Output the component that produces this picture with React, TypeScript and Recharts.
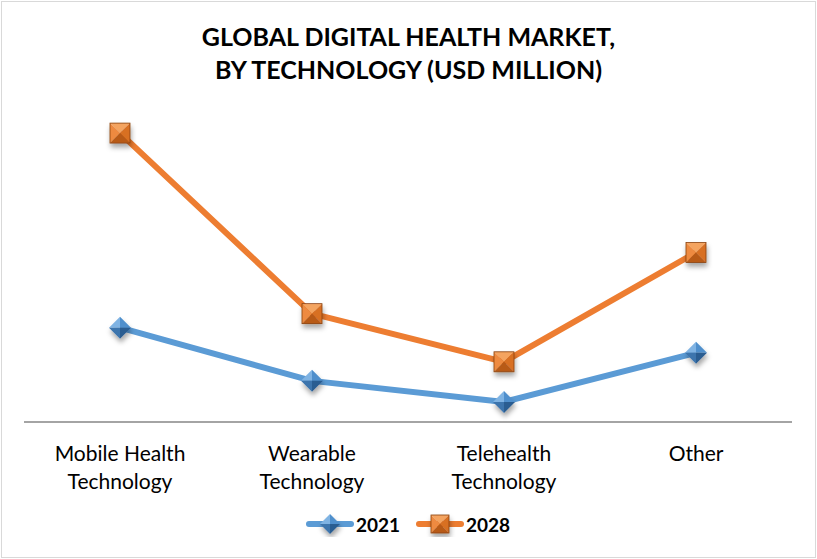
import React from "react";
import { LineChart, Line, XAxis, YAxis, Legend } from "recharts";

const categories = ["Mobile Health|Technology", "Wearable|Technology", "Telehealth|Technology", "Other"];
const values2021 = [94, 41, 20, 69];
const values2028 = [288, 108, 60, 169];
const seriesNames = ["2021", "2028"];

const data = categories.map((c, i) => ({ name: c, s2021: values2021[i], s2028: values2028[i] }));

const FONT = "Lato, 'Open Sans', sans-serif";
const BLUE = "#5B9BD5";
const ORANGE = "#ED7D31";

const Diamond = ({ cx, cy, size = 11 }: any) => {
  if (cx == null || cy == null) return null;
  const r = size;
  return (
    <g filter="url(#shadow)">
      <polygon points={`${cx},${cy - r} ${cx},${cy} ${cx - r},${cy}`} fill="#7fb3e3" />
      <polygon points={`${cx},${cy - r} ${cx + r},${cy} ${cx},${cy}`} fill="#4f8fcc" />
      <polygon points={`${cx - r},${cy} ${cx},${cy} ${cx},${cy + r}`} fill="#3d74ad" />
      <polygon points={`${cx},${cy} ${cx + r},${cy} ${cx},${cy + r}`} fill="#2c5d91" />
    </g>
  );
};

const Square = ({ cx, cy, size = 10 }: any) => {
  if (cx == null || cy == null) return null;
  const r = size;
  const l = cx - r, t = cy - r, rr = cx + r, b = cy + r;
  return (
    <g filter="url(#shadow)">
      <polygon points={`${l},${t} ${rr},${t} ${cx},${cy}`} fill="#f4a460" />
      <polygon points={`${l},${t} ${cx},${cy} ${l},${b}`} fill="#ee8a3f" />
      <polygon points={`${rr},${t} ${rr},${b} ${cx},${cy}`} fill="#d86f24" />
      <polygon points={`${l},${b} ${cx},${cy} ${rr},${b}`} fill="#b85a17" />
      <rect x={l} y={t} width={2 * r} height={2 * r} fill="none" stroke="#8a4210" strokeWidth={0.8} />
    </g>
  );
};

const Tick = ({ x, y, payload }: any) => {
  const lines = String(payload.value).split("|");
  return (
    <g>
      {lines.map((ln, i) => (
        <text key={i} x={x} y={y + 31 + i * 28} textAnchor="middle" fontFamily={FONT} fontSize={21} fill="#000">
          {ln}
        </text>
      ))}
    </g>
  );
};

const LegendContent = () => (
  <div style={{ display: "flex", justifyContent: "center", alignItems: "center", gap: 16, fontFamily: FONT, fontWeight: 700, fontSize: 19, height: 28 }}>
    {[0, 1].map((i) => (
      <div key={i} style={{ display: "flex", alignItems: "center" }}>
        <svg width={48} height={26}>
          <line x1={3} y1={13} x2={45} y2={13} stroke={i === 0 ? BLUE : ORANGE} strokeWidth={6} strokeLinecap="round" />
          {i === 0 ? <Diamond cx={24} cy={13} size={10} /> : <Square cx={24} cy={13} size={9} />}
        </svg>
        <span style={{ marginLeft: 2 }}>{seriesNames[i]}</span>
      </div>
    ))}
  </div>
);

export default function App() {
  return (
    <div style={{ position: "absolute", left: 0, top: 0, width: 817, height: 559, background: "#fff" }}>
      <div style={{ position: "absolute", left: 1, top: 1, width: 813, height: 555, border: "1px solid #d9d9d9" }} />
      <div style={{ position: "absolute", left: 0, top: 20, width: 817, textAlign: "center", fontFamily: FONT, fontWeight: 700, fontSize: 25, lineHeight: "33px", color: "#000" }}>
        GLOBAL DIGITAL HEALTH MARKET,
        <br />
        BY TECHNOLOGY (USD MILLION)
      </div>
      <LineChart width={817} height={559} data={data} margin={{ top: 101, right: 25, left: 24, bottom: 21 }} style={{ position: "absolute", left: 0, top: 0 }}>
        <defs>
          <filter id="shadow" x="-50%" y="-50%" width="200%" height="200%">
            <feDropShadow dx={1} dy={4} stdDeviation={2.5} floodColor="#000" floodOpacity={0.35} />
          </filter>
        </defs>
        <XAxis dataKey="name" height={88} tick={<Tick />} tickLine={false} axisLine={{ stroke: "#868686", strokeWidth: 1.5 }} interval={0} padding={{ left: 96, right: 96 }} />
        <YAxis hide domain={[0, 320]} />
        <Legend verticalAlign="bottom" content={<LegendContent />} />
        <Line dataKey="s2021" name="2021" stroke={BLUE} strokeWidth={6} isAnimationActive={false} dot={<Diamond />} activeDot={false} strokeLinejoin="round" />
        <Line dataKey="s2028" name="2028" stroke={ORANGE} strokeWidth={6} isAnimationActive={false} dot={<Square />} activeDot={false} strokeLinejoin="round" />
      </LineChart>
    </div>
  );
}
